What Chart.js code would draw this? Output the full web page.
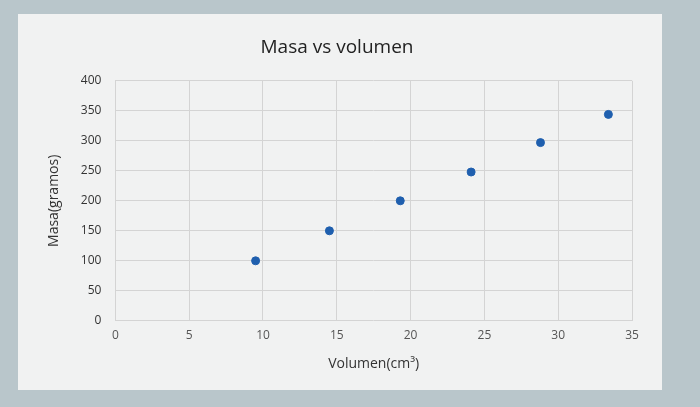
<!DOCTYPE html>
<html>
<head>
<meta charset="utf-8">
<script src="https://cdn.jsdelivr.net/npm/chart.js@4.4.0/dist/chart.umd.min.js"></script>
<style>
  body { margin: 0; background: #b9c6cb; }
  #box { position: absolute; left: 18px; top: 14px; width: 644px; height: 376px; background: #f1f2f2; }
</style>
</head>
<body>
<div id="box"><canvas id="chart" width="644" height="376"></canvas></div>
<script>
// volumen (cm3) and masa (gramos)
var volumen = [9.5, 14.5, 19.3, 24.1, 28.8, 33.4];
var masa = [100, 150, 200, 248, 297, 344];
var xTicks = [0, 5, 10, 15, 20, 25, 30, 35];
var yTicks = [0, 50, 100, 150, 200, 250, 300, 350, 400];

var points = volumen.map(function (v, i) {
    return {x: v, y: masa[i]};
});

new Chart(document.getElementById("chart").getContext("2d"), {
    type: 'scatter',
    data: {
        datasets: [{
            label: "Masa",
            data: points,
            backgroundColor: "#1f5fae",
            borderColor: "#1f5fae",
            pointRadius: 4
        }]
    },
    options: {
        responsive: false,
        animation: false,
        layout: {padding: {left: 24, right: 30, top: 14, bottom: 14}},
        plugins: {
            legend: {display: false},
            title: {
                display: true,
                text: "Masa vs volumen",
                color: "#222",
                font: {family: "Open Sans", size: 19, weight: "normal"},
                padding: {top: 8, bottom: 22}
            }
        },
        scales: {
            x: {
                min: 0, max: 35,
                afterBuildTicks: function (s) { s.ticks = xTicks.map(function (v) { return {value: v}; }); },
                grid: {color: "#d4d4d4", drawTicks: false},
                border: {display: false},
                ticks: {color: "#555", font: {family: "Open Sans", size: 12}, padding: 8},
                title: {display: true, text: "Volumen(cm³)", color: "#333", font: {family: "Open Sans", size: 14}}
            },
            y: {
                min: 0, max: 400,
                afterBuildTicks: function (s) { s.ticks = yTicks.map(function (v) { return {value: v}; }); },
                grid: {color: "#d4d4d4", drawTicks: false},
                border: {display: false},
                ticks: {color: "#333", font: {family: "Open Sans", size: 12}, padding: 14},
                title: {display: true, text: "Masa(gramos)", color: "#333", font: {family: "Open Sans", size: 14}}
            }
        }
    }
});
</script>
</body>
</html>
